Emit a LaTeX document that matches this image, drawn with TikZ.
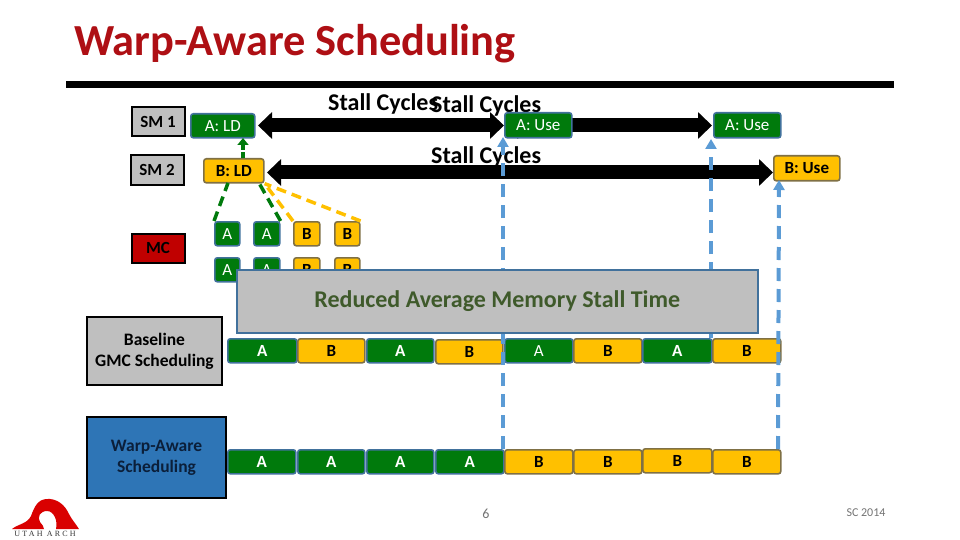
\documentclass[tikz,border=0pt]{standalone}
\usepackage{fontspec}
\setmainfont{Carlito}
\newfontfamily\logofont[LetterSpace=28]{Liberation Serif}
\usetikzlibrary{arrows.meta}
\definecolor{agreen}{HTML}{007A0C}
\definecolor{agreenline}{HTML}{41719C}
\definecolor{byellow}{HTML}{FFC000}
\definecolor{byellowline}{HTML}{7F7045}
\definecolor{boxgray}{HTML}{BFBFBF}
\definecolor{mcred}{HTML}{C00000}
\definecolor{warpblue}{HTML}{2E75B6}
\definecolor{usedash}{HTML}{5B9BD5}
\definecolor{titlered}{HTML}{AE0F14}
\definecolor{reducedgreen}{HTML}{3F5A2B}
\definecolor{warptext}{HTML}{0B1F3A}
\tikzset{
	abox/.style = {draw=agreenline, line width=1.6pt, fill=agreen, rounded corners=2.5pt, text=white, inner sep=0pt, font=\fontsize{17}{17}\selectfont},
	bbox/.style = {draw=byellowline, line width=1.6pt, fill=byellow, rounded corners=2.5pt, text=black, inner sep=0pt, font=\fontsize{17}{17}\selectfont\bfseries},
	smbox/.style = {draw=black, line width=2pt, fill=boxgray, inner sep=0pt, font=\fontsize{17}{17}\selectfont\bfseries, minimum width=53pt, minimum height=29pt},
	stallbar/.style = {line width=14pt, {Triangle[length=14pt,width=26pt]}-{Triangle[length=14pt,width=26pt]}},
	usearrow/.style = {usedash, line width=4pt, dash pattern=on 13pt off 8pt, -{Triangle[length=10pt,width=11pt]}},
	ldgreen/.style = {agreen, line width=3.5pt, dash pattern=on 10pt off 6pt},
	ldyellow/.style = {byellow, line width=3.5pt, dash pattern=on 10pt off 6pt},
	stalltext/.style = {font=\fontsize{24}{24}\selectfont\bfseries, inner sep=0pt, anchor=base west},
	sidebox/.style = {draw=black, line width=2pt, anchor=north west, align=center, inner sep=0pt, font=\fontsize{17.5}{21}\selectfont\bfseries},
}
% box macro: name, style, left, top, right, bottom, text
\newcommand{\slotbox}[7]{\node (#1) [#2, anchor=north west, minimum width=#5pt-#3pt, minimum height=#6pt-#4pt] at (#3,#4) {#7};}
\begin{document}
\begin{tikzpicture}[x=1pt, y=-1pt]
	\useasboundingbox (0,0) rectangle (960,540);
	
	\node (title) [anchor=base west, inner sep=0pt, text=titlered, font=\fontsize{44.4}{44}\selectfont\bfseries] at (74,55.5) {Warp-Aware Scheduling};
	\coordinate (ruleL) at (66,84.5);
	\coordinate (ruleR) at (894,84.5);
	\draw[line width=7pt] (ruleL) -- (ruleR);
	
	\node (sm1) [smbox] at (158,122) {SM 1};
	\node (sm2) [smbox] at (157,170) {SM 2};
	\node (mc)  [smbox, fill=mcred] at (158,248) {MC};
	
	\slotbox{ald}{abox}{190}{113}{254}{137}{A: LD}
	\slotbox{bld}{bbox}{203}{158}{263}{182}{B: LD}
	\slotbox{auseb}{abox}{713}{112}{780}{137}{A: Use}
	\slotbox{buse}{bbox}{773}{155}{839}{180}{B: Use}
	
	% memory controller queue
	\slotbox{qa}{abox}{214}{221}{239}{245}{A}
	\slotbox{qb}{abox}{253}{221}{279}{245}{A}
	\slotbox{qc}{bbox}{293}{221}{319}{245}{B}
	\slotbox{qd}{bbox}{334}{221}{359}{245}{B}
	\slotbox{qe}{abox}{214}{257}{239}{281}{A}
	\slotbox{qf}{abox}{253}{257}{279}{281}{A}
	\slotbox{qg}{bbox}{293}{257}{319}{281}{B}
	\slotbox{qh}{bbox}{334}{257}{359}{281}{B}
	
	\coordinate (ldup) at (243,158);
	\coordinate (ldbk) at (243,138);
	\coordinate (ldg1) at (228,183);
	\coordinate (ldg2) at (259,183);
	\draw[ldgreen, dash pattern=on 6pt off 2pt, -{Triangle[length=7pt,width=11pt]}] (ldup) -- (ldbk);
	\draw[ldgreen] (qa.north west) -- (ldg1);
	\draw[ldgreen] (qb.north east) -- (ldg2);
	\draw[ldyellow] (qc.north west) -- (bld.south east);
	\draw[ldyellow] (qd.north east) -- (bld.south east);
	
	\coordinate (bar1L) at (258,125.5);
	\coordinate (bar1M) at (504,125.5);
	\coordinate (bar1R) at (712,125.5);
	\coordinate (bar2L) at (267,172.5);
	\coordinate (bar2R) at (773,172.5);
	\draw[stallbar] (bar1L) -- (bar1M);
	\draw[stallbar] (bar1M) -- (bar1R);
	\draw[stallbar] (bar2L) -- (bar2R);
	\node (stallA) [stalltext] at (328,111) {Stall Cycles};
	\node (stallB) [stalltext] at (431,113) {Stall Cycles};
	\node (stallC) [stalltext] at (431,164) {Stall Cycles};
	\slotbox{ause}{abox}{504}{112}{571}{137}{A: Use}
	
	% schedule rows
	\slotbox{ra}{abox}{227}{338}{296}{362}{\bfseries A}
	\slotbox{rb}{bbox}{297}{338}{364}{362}{B}
	\slotbox{rc}{abox}{366}{338}{433}{362}{\bfseries A}
	\slotbox{rd}{bbox}{435}{339}{502}{363}{B}
	\slotbox{re}{abox}{504}{338}{572}{362}{A}
	\slotbox{rf}{bbox}{573}{338}{641}{362}{B}
	\slotbox{rg}{abox}{642}{338}{711}{362}{\bfseries A}
	\slotbox{rh}{bbox}{712}{338}{780}{362}{B}
	
	\slotbox{wa}{abox}{227}{449}{295}{473}{\bfseries A}
	\slotbox{wb}{abox}{297}{449}{364}{473}{\bfseries A}
	\slotbox{wc}{abox}{366}{449}{433}{473}{\bfseries A}
	\slotbox{wd}{abox}{435}{449}{503}{473}{\bfseries A}
	\slotbox{we}{bbox}{504}{449}{572}{473}{B}
	\slotbox{wf}{bbox}{573}{449}{641}{473}{B}
	\slotbox{wg}{bbox}{642}{448}{711}{472}{B}
	\slotbox{wh}{bbox}{712}{449}{780}{473}{B}
	
	\coordinate (useA) at (503,449);
	\coordinate (useB) at (711,338);
	\coordinate (useC) at (778,449);
	\coordinate (tipA) at (503,137);
	\coordinate (tipB) at (711,139);
	\coordinate (tipC) at (779,180);
	\draw[usearrow] (useA) -- (tipA);
	\draw[usearrow] (useB) -- (tipB);
	\draw[usearrow] (useC) -- (tipC);
	
	\slotbox{reduced}{abox, fill=boxgray, rounded corners=0pt, text=reducedgreen}{236}{269}{757}{332}{\fontsize{24}{24}\selectfont\bfseries Reduced Average Memory Stall Time}
	
	\node (base) [sidebox, fill=boxgray, minimum width=135pt, minimum height=68pt] at (86,316) {Baseline\\GMC Scheduling};
	\node (warp) [sidebox, fill=warpblue, text=warptext, minimum width=139pt, minimum height=81pt] at (86,416) {Warp-Aware\\Scheduling};
	
	\node (page) [inner sep=0pt, text=black!55, font=\fontsize{14}{14}\selectfont] at (486,514) {6};
	\node (conf) [inner sep=0pt, text=black!55, font=\fontsize{12}{12}\selectfont] at (866,513) {SC 2014};
	
	% logo
	\fill[red!85!black] (12,529) .. controls (18,524) and (27,524) .. (31,516) .. controls (34,508) and (37,500) .. (46,499) .. controls (57,498) and (65,505) .. (69,514) .. controls (72,520) and (76,524) .. (79,529) -- (56,529) .. controls (58,521) and (54,511) .. (47,511) .. controls (40,511) and (37,517) .. (40,522) .. controls (42,525) and (44,526) .. (44,529) -- cycle;
	\node (logotext) [inner sep=0pt, font=\fontsize{8}{8}\selectfont\logofont, text=black!80] at (45,534) {UTAH ARCH};
\end{tikzpicture}
\end{document}
